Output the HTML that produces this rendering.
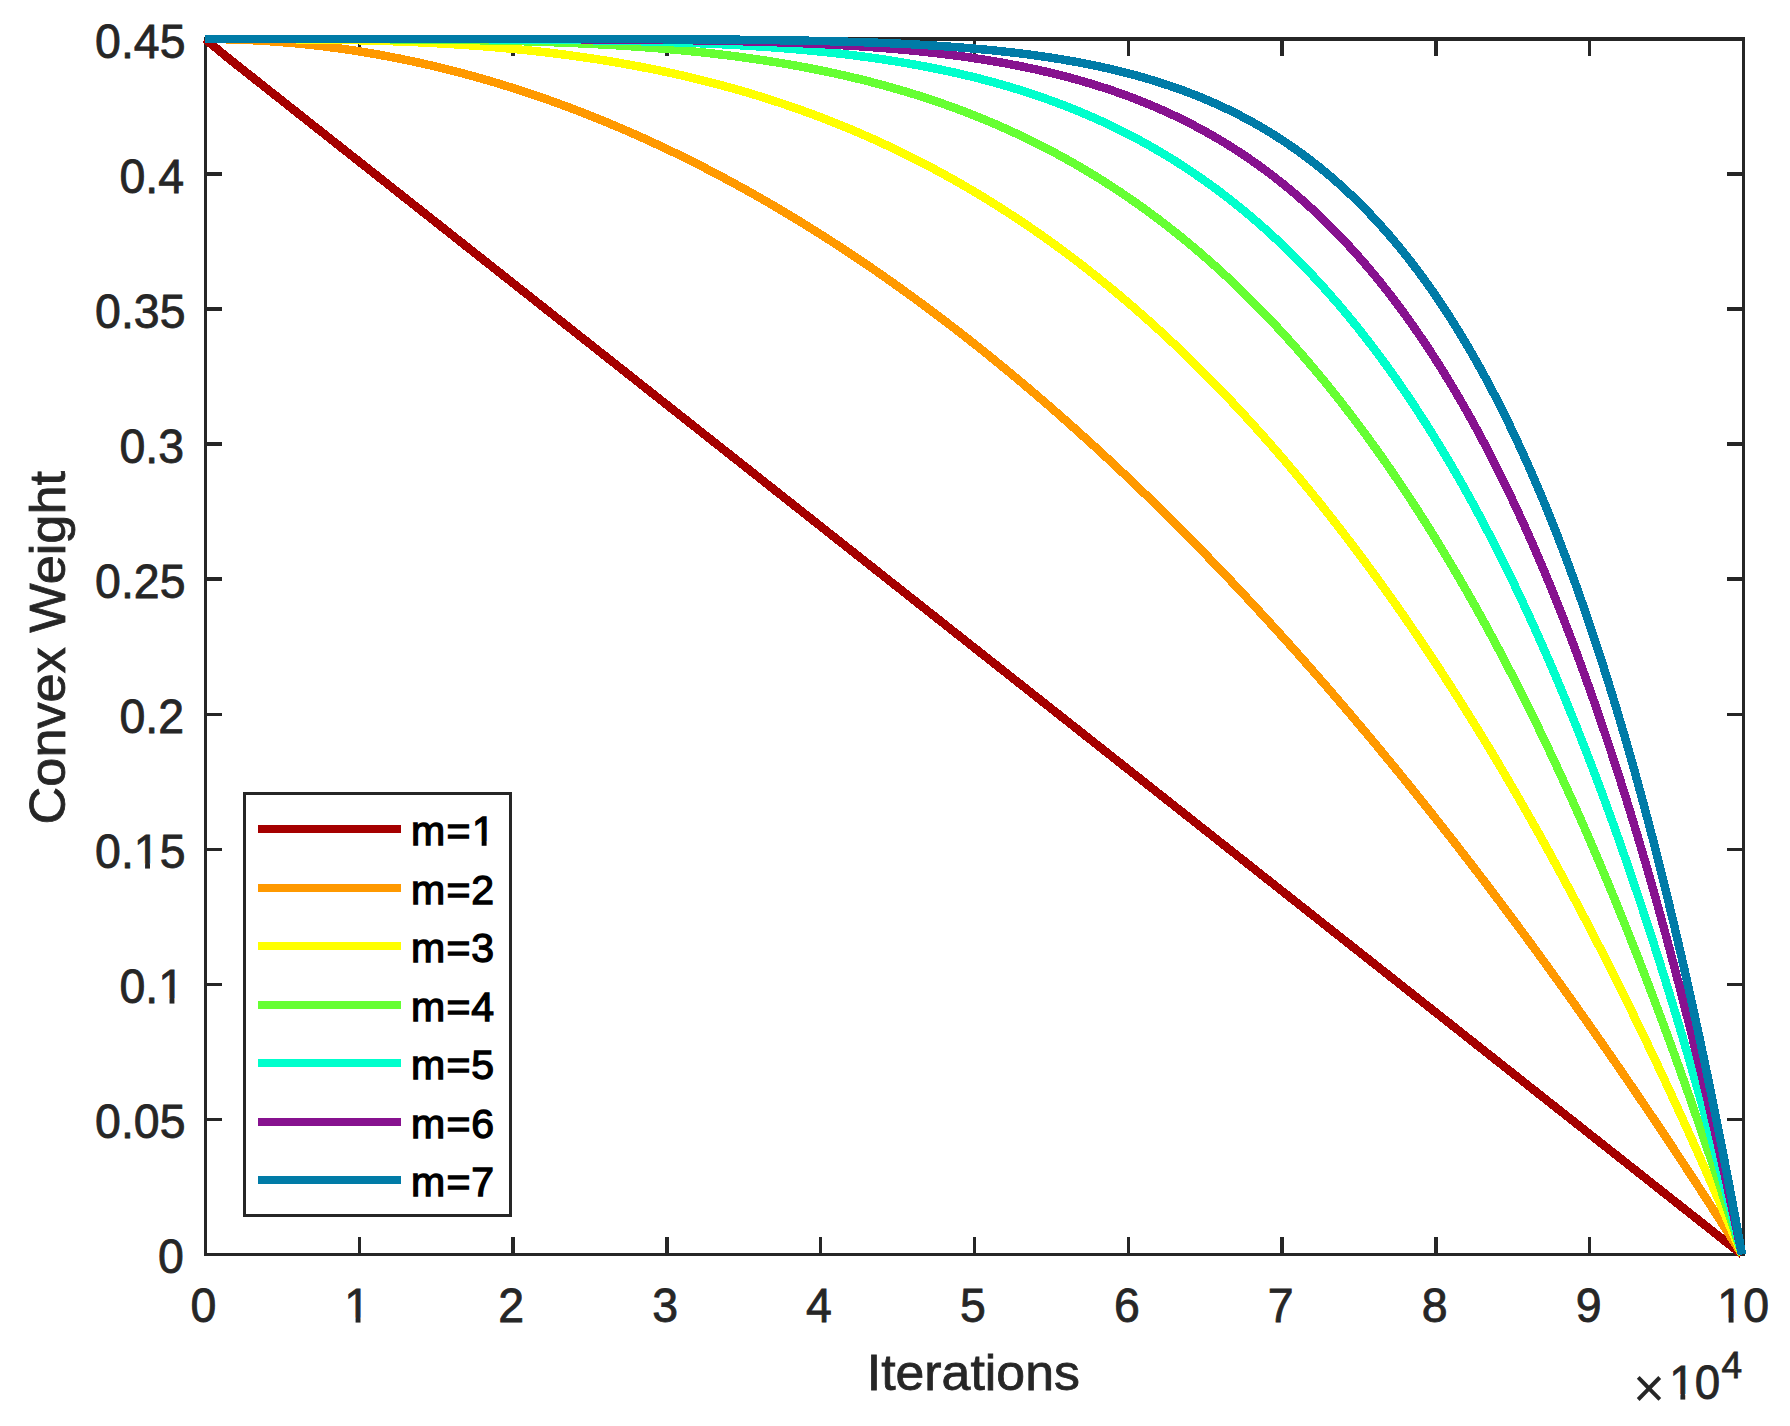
<!DOCTYPE html>
<html lang="en"><head><meta charset="utf-8"><title>Convex Weight vs Iterations</title>
<style>html,body{margin:0;padding:0;background:#fff;}body{width:1790px;height:1426px;overflow:hidden;}svg{display:block;}text{font-family:"Liberation Sans",Arial,Helvetica,sans-serif;}</style></head><body>
<svg width="1790" height="1426" viewBox="0 0 1790 1426">
<rect x="0" y="0" width="1790" height="1426" fill="#ffffff"/>
<g fill="#262626" shape-rendering="crispEdges">
<rect x="204" y="37" width="3" height="1219"/>
<rect x="1742" y="37" width="3" height="1219"/>
<rect x="204" y="37" width="1541" height="4"/>
<rect x="204" y="1253" width="1541" height="3"/>
<rect x="358" y="1237" width="3" height="19"/>
<rect x="358" y="37" width="3" height="19"/>
<rect x="511" y="1237" width="4" height="19"/>
<rect x="511" y="37" width="4" height="19"/>
<rect x="665" y="1237" width="4" height="19"/>
<rect x="665" y="37" width="4" height="19"/>
<rect x="819" y="1237" width="3" height="19"/>
<rect x="819" y="37" width="3" height="19"/>
<rect x="973" y="1237" width="3" height="19"/>
<rect x="973" y="37" width="3" height="19"/>
<rect x="1127" y="1237" width="3" height="19"/>
<rect x="1127" y="37" width="3" height="19"/>
<rect x="1280" y="1237" width="4" height="19"/>
<rect x="1280" y="37" width="4" height="19"/>
<rect x="1434" y="1237" width="4" height="19"/>
<rect x="1434" y="37" width="4" height="19"/>
<rect x="1588" y="1237" width="3" height="19"/>
<rect x="1588" y="37" width="3" height="19"/>
<rect x="204" y="1118" width="18" height="3"/>
<rect x="1727" y="1118" width="18" height="3"/>
<rect x="204" y="983" width="18" height="3"/>
<rect x="1727" y="983" width="18" height="3"/>
<rect x="204" y="848" width="18" height="3"/>
<rect x="1727" y="848" width="18" height="3"/>
<rect x="204" y="713" width="18" height="3"/>
<rect x="1727" y="713" width="18" height="3"/>
<rect x="204" y="577" width="18" height="4"/>
<rect x="1727" y="577" width="18" height="4"/>
<rect x="204" y="442" width="18" height="4"/>
<rect x="1727" y="442" width="18" height="4"/>
<rect x="204" y="307" width="18" height="4"/>
<rect x="1727" y="307" width="18" height="4"/>
<rect x="204" y="172" width="18" height="4"/>
<rect x="1727" y="172" width="18" height="4"/>
</g>
<g fill="none" stroke-width="8.5" stroke-linejoin="round" stroke-linecap="butt" shape-rendering="crispEdges">
<polyline stroke="#A50000" points="205.10,39.00 208.78,42.04 212.45,45.08 216.13,48.12 219.80,51.15 223.48,54.19 227.15,57.23 230.91,60.27 234.76,63.31 238.61,66.35 242.45,69.39 246.30,72.43 250.14,75.47 253.99,78.50 257.83,81.54 261.68,84.58 265.52,87.62 269.37,90.66 273.21,93.70 277.06,96.74 280.90,99.77 284.75,102.81 288.59,105.85 292.44,108.89 296.28,111.93 300.12,114.97 303.97,118.01 307.81,121.05 311.66,124.09 315.50,127.12 319.35,130.16 323.19,133.20 327.04,136.24 330.88,139.28 334.73,142.32 338.57,145.36 342.42,148.39 346.26,151.43 350.11,154.47 353.96,157.51 357.80,160.55 361.65,163.59 365.49,166.63 369.33,169.67 373.18,172.70 377.02,175.74 380.87,178.78 384.72,181.82 388.56,184.86 392.41,187.90 396.25,190.94 400.10,193.98 403.94,197.01 407.79,200.05 411.63,203.09 415.48,206.13 419.32,209.17 423.17,212.21 427.01,215.25 430.86,218.29 434.70,221.33 438.55,224.36 442.39,227.40 446.24,230.44 450.08,233.48 453.93,236.52 457.77,239.56 461.62,242.60 465.46,245.64 469.31,248.67 473.15,251.71 477.00,254.75 480.84,257.79 484.69,260.83 488.53,263.87 492.38,266.91 496.22,269.94 500.06,272.98 503.91,276.02 507.75,279.06 511.60,282.10 515.44,285.14 519.29,288.18 523.13,291.22 526.98,294.25 530.83,297.29 534.67,300.33 538.52,303.37 542.36,306.41 546.21,309.45 550.05,312.49 553.89,315.53 557.74,318.56 561.59,321.60 565.43,324.64 569.27,327.68 573.12,330.72 576.97,333.76 580.81,336.80 584.65,339.84 588.50,342.87 592.35,345.91 596.19,348.95 600.04,351.99 603.88,355.03 607.73,358.07 611.57,361.11 615.42,364.15 619.26,367.18 623.11,370.22 626.95,373.26 630.80,376.30 634.64,379.34 638.49,382.38 642.33,385.42 646.17,388.46 650.02,391.50 653.87,394.53 657.71,397.57 661.56,400.61 665.40,403.65 669.25,406.69 673.09,409.73 676.94,412.77 680.78,415.80 684.62,418.84 688.47,421.88 692.32,424.92 696.16,427.96 700.00,431.00 703.85,434.04 707.70,437.08 711.54,440.12 715.38,443.15 719.23,446.19 723.08,449.23 726.92,452.27 730.77,455.31 734.61,458.35 738.46,461.39 742.30,464.42 746.15,467.46 749.99,470.50 753.84,473.54 757.68,476.58 761.52,479.62 765.37,482.66 769.22,485.70 773.06,488.73 776.90,491.77 780.75,494.81 784.60,497.85 788.44,500.89 792.29,503.93 796.13,506.97 799.98,510.01 803.82,513.04 807.67,516.08 811.51,519.12 815.36,522.16 819.20,525.20 823.05,528.24 826.89,531.28 830.74,534.32 834.58,537.35 838.42,540.39 842.27,543.43 846.12,546.47 849.96,549.51 853.81,552.55 857.65,555.59 861.50,558.63 865.34,561.66 869.19,564.70 873.03,567.74 876.88,570.78 880.72,573.82 884.56,576.86 888.41,579.90 892.26,582.94 896.10,585.98 899.95,589.01 903.79,592.05 907.63,595.09 911.48,598.13 915.33,601.17 919.17,604.21 923.01,607.25 926.86,610.28 930.71,613.32 934.55,616.36 938.40,619.40 942.24,622.44 946.09,625.48 949.93,628.52 953.77,631.56 957.62,634.60 961.47,637.63 965.31,640.67 969.16,643.71 973.00,646.75 976.85,649.79 980.69,652.83 984.54,655.87 988.38,658.91 992.23,661.94 996.07,664.98 999.92,668.02 1003.76,671.06 1007.61,674.10 1011.45,677.14 1015.30,680.18 1019.14,683.22 1022.99,686.25 1026.83,689.29 1030.67,692.33 1034.52,695.37 1038.37,698.41 1042.21,701.45 1046.06,704.49 1049.90,707.53 1053.75,710.56 1057.59,713.60 1061.43,716.64 1065.28,719.68 1069.12,722.72 1072.97,725.76 1076.82,728.80 1080.66,731.84 1084.51,734.87 1088.35,737.91 1092.20,740.95 1096.04,743.99 1099.88,747.03 1103.73,750.07 1107.58,753.11 1111.42,756.15 1115.27,759.18 1119.11,762.22 1122.96,765.26 1126.80,768.30 1130.64,771.34 1134.49,774.38 1138.34,777.42 1142.18,780.46 1146.03,783.49 1149.87,786.53 1153.72,789.57 1157.56,792.61 1161.41,795.65 1165.25,798.69 1169.10,801.73 1172.94,804.77 1176.79,807.80 1180.63,810.84 1184.47,813.88 1188.32,816.92 1192.17,819.96 1196.01,823.00 1199.86,826.04 1203.70,829.08 1207.55,832.11 1211.39,835.15 1215.24,838.19 1219.08,841.23 1222.92,844.27 1226.77,847.31 1230.62,850.35 1234.46,853.38 1238.31,856.42 1242.15,859.46 1246.00,862.50 1249.84,865.54 1253.68,868.58 1257.53,871.62 1261.38,874.66 1265.22,877.70 1269.07,880.73 1272.91,883.77 1276.76,886.81 1280.60,889.85 1284.45,892.89 1288.29,895.93 1292.13,898.97 1295.98,902.01 1299.83,905.04 1303.67,908.08 1307.52,911.12 1311.36,914.16 1315.21,917.20 1319.05,920.24 1322.89,923.28 1326.74,926.32 1330.59,929.35 1334.43,932.39 1338.28,935.43 1342.12,938.47 1345.97,941.51 1349.81,944.55 1353.66,947.59 1357.50,950.62 1361.35,953.66 1365.19,956.70 1369.04,959.74 1372.88,962.78 1376.72,965.82 1380.57,968.86 1384.42,971.90 1388.26,974.93 1392.11,977.97 1395.95,981.01 1399.80,984.05 1403.64,987.09 1407.49,990.13 1411.33,993.17 1415.17,996.21 1419.02,999.25 1422.87,1002.28 1426.71,1005.32 1430.56,1008.36 1434.40,1011.40 1438.25,1014.44 1442.09,1017.48 1445.94,1020.52 1449.78,1023.55 1453.62,1026.59 1457.47,1029.63 1461.32,1032.67 1465.16,1035.71 1469.00,1038.75 1472.85,1041.79 1476.70,1044.83 1480.54,1047.87 1484.39,1050.90 1488.23,1053.94 1492.08,1056.98 1495.92,1060.02 1499.77,1063.06 1503.61,1066.10 1507.45,1069.14 1511.30,1072.17 1515.14,1075.21 1518.99,1078.25 1522.84,1081.29 1526.68,1084.33 1530.53,1087.37 1534.37,1090.41 1538.22,1093.45 1542.06,1096.49 1545.90,1099.52 1549.75,1102.56 1553.60,1105.60 1557.44,1108.64 1561.29,1111.68 1565.13,1114.72 1568.97,1117.76 1572.82,1120.80 1576.67,1123.83 1580.51,1126.87 1584.36,1129.91 1588.20,1132.95 1592.05,1135.99 1595.89,1139.03 1599.74,1142.07 1603.58,1145.11 1607.42,1148.14 1611.27,1151.18 1615.12,1154.22 1618.96,1157.26 1622.80,1160.30 1626.65,1163.34 1630.50,1166.38 1634.34,1169.41 1638.19,1172.45 1642.03,1175.49 1645.88,1178.53 1649.72,1181.57 1653.57,1184.61 1657.41,1187.65 1661.25,1190.69 1665.10,1193.72 1668.95,1196.76 1672.79,1199.80 1676.64,1202.84 1680.48,1205.88 1684.33,1208.92 1688.17,1211.96 1692.02,1215.00 1695.86,1218.04 1699.71,1221.07 1703.55,1224.11 1707.39,1227.15 1711.24,1230.19 1715.09,1233.23 1718.93,1236.27 1722.78,1239.31 1726.62,1242.35 1730.47,1245.38 1734.31,1248.42 1738.16,1251.46 1742.00,1254.50"/>
<polyline stroke="#FF9900" points="205.10,39.00 208.78,39.01 212.45,39.03 216.13,39.07 219.80,39.12 223.48,39.19 227.15,39.27 230.91,39.37 234.76,39.49 238.61,39.62 242.45,39.76 246.30,39.92 250.14,40.09 253.99,40.28 257.83,40.49 261.68,40.71 265.52,40.94 269.37,41.20 273.21,41.46 277.06,41.74 280.90,42.04 284.75,42.35 288.59,42.68 292.44,43.02 296.28,43.38 300.12,43.75 303.97,44.14 307.81,44.54 311.66,44.96 315.50,45.39 319.35,45.84 323.19,46.30 327.04,46.78 330.88,47.27 334.73,47.78 338.57,48.31 342.42,48.85 346.26,49.40 350.11,49.97 353.96,50.55 357.80,51.15 361.65,51.77 365.49,52.40 369.33,53.05 373.18,53.71 377.02,54.38 380.87,55.07 384.72,55.78 388.56,56.50 392.41,57.24 396.25,57.99 400.10,58.76 403.94,59.54 407.79,60.34 411.63,61.15 415.48,61.98 419.32,62.82 423.17,63.68 427.01,64.56 430.86,65.44 434.70,66.35 438.55,67.27 442.39,68.20 446.24,69.15 450.08,70.12 453.93,71.10 457.77,72.09 461.62,73.10 465.46,74.13 469.31,75.17 473.15,76.22 477.00,77.30 480.84,78.38 484.69,79.48 488.53,80.60 492.38,81.73 496.22,82.88 500.06,84.04 503.91,85.22 507.75,86.41 511.60,87.62 515.44,88.84 519.29,90.08 523.13,91.33 526.98,92.60 530.83,93.89 534.67,95.19 538.52,96.50 542.36,97.83 546.21,99.17 550.05,100.53 553.89,101.91 557.74,103.30 561.59,104.71 565.43,106.13 569.27,107.56 573.12,109.01 576.97,110.48 580.81,111.96 584.65,113.46 588.50,114.97 592.35,116.50 596.19,118.04 600.04,119.60 603.88,121.17 607.73,122.76 611.57,124.36 615.42,125.98 619.26,127.61 623.11,129.26 626.95,130.92 630.80,132.60 634.64,134.30 638.49,136.00 642.33,137.73 646.17,139.47 650.02,141.22 653.87,142.99 657.71,144.78 661.56,146.58 665.40,148.39 669.25,150.23 673.09,152.07 676.94,153.93 680.78,155.81 684.62,157.70 688.47,159.61 692.32,161.53 696.16,163.47 700.00,165.42 703.85,167.39 707.70,169.37 711.54,171.37 715.38,173.38 719.23,175.41 723.08,177.45 726.92,179.51 730.77,181.59 734.61,183.67 738.46,185.78 742.30,187.90 746.15,190.03 749.99,192.18 753.84,194.35 757.68,196.53 761.52,198.72 765.37,200.93 769.22,203.16 773.06,205.40 776.90,207.66 780.75,209.93 784.60,212.22 788.44,214.52 792.29,216.84 796.13,219.17 799.98,221.51 803.82,223.88 807.67,226.26 811.51,228.65 815.36,231.06 819.20,233.48 823.05,235.92 826.89,238.37 830.74,240.84 834.58,243.33 838.42,245.82 842.27,248.34 846.12,250.87 849.96,253.41 853.81,255.97 857.65,258.55 861.50,261.14 865.34,263.75 869.19,266.37 873.03,269.00 876.88,271.65 880.72,274.32 884.56,277.00 888.41,279.70 892.26,282.41 896.10,285.14 899.95,287.88 903.79,290.64 907.63,293.41 911.48,296.20 915.33,299.00 919.17,301.82 923.01,304.66 926.86,307.50 930.71,310.37 934.55,313.25 938.40,316.14 942.24,319.05 946.09,321.98 949.93,324.92 953.77,327.87 957.62,330.84 961.47,333.83 965.31,336.83 969.16,339.84 973.00,342.87 976.85,345.92 980.69,348.98 984.54,352.06 988.38,355.15 992.23,358.26 996.07,361.38 999.92,364.52 1003.76,367.67 1007.61,370.84 1011.45,374.02 1015.30,377.22 1019.14,380.43 1022.99,383.66 1026.83,386.91 1030.67,390.17 1034.52,393.44 1038.37,396.73 1042.21,400.03 1046.06,403.35 1049.90,406.69 1053.75,410.04 1057.59,413.40 1061.43,416.78 1065.28,420.18 1069.12,423.59 1072.97,427.02 1076.82,430.46 1080.66,433.92 1084.51,437.39 1088.35,440.87 1092.20,444.38 1096.04,447.89 1099.88,451.43 1103.73,454.97 1107.58,458.54 1111.42,462.12 1115.27,465.71 1119.11,469.32 1122.96,472.94 1126.80,476.58 1130.64,480.23 1134.49,483.90 1138.34,487.59 1142.18,491.29 1146.03,495.00 1149.87,498.73 1153.72,502.48 1157.56,506.24 1161.41,510.01 1165.25,513.80 1169.10,517.61 1172.94,521.43 1176.79,525.27 1180.63,529.12 1184.47,532.99 1188.32,536.87 1192.17,540.77 1196.01,544.68 1199.86,548.61 1203.70,552.55 1207.55,556.51 1211.39,560.48 1215.24,564.47 1219.08,568.47 1222.92,572.49 1226.77,576.52 1230.62,580.57 1234.46,584.64 1238.31,588.72 1242.15,592.81 1246.00,596.92 1249.84,601.05 1253.68,605.19 1257.53,609.34 1261.38,613.51 1265.22,617.70 1269.07,621.90 1272.91,626.12 1276.76,630.35 1280.60,634.60 1284.45,638.86 1288.29,643.13 1292.13,647.43 1295.98,651.73 1299.83,656.06 1303.67,660.39 1307.52,664.75 1311.36,669.12 1315.21,673.50 1319.05,677.90 1322.89,682.31 1326.74,686.74 1330.59,691.18 1334.43,695.64 1338.28,700.12 1342.12,704.61 1345.97,709.11 1349.81,713.63 1353.66,718.17 1357.50,722.72 1361.35,727.28 1365.19,731.87 1369.04,736.46 1372.88,741.07 1376.72,745.70 1380.57,750.34 1384.42,755.00 1388.26,759.67 1392.11,764.36 1395.95,769.06 1399.80,773.78 1403.64,778.51 1407.49,783.26 1411.33,788.02 1415.17,792.80 1419.02,797.59 1422.87,802.40 1426.71,807.23 1430.56,812.07 1434.40,816.92 1438.25,821.79 1442.09,826.67 1445.94,831.57 1449.78,836.49 1453.62,841.42 1457.47,846.37 1461.32,851.33 1465.16,856.30 1469.00,861.29 1472.85,866.30 1476.70,871.32 1480.54,876.36 1484.39,881.41 1488.23,886.48 1492.08,891.56 1495.92,896.66 1499.77,901.77 1503.61,906.90 1507.45,912.04 1511.30,917.20 1515.14,922.37 1518.99,927.56 1522.84,932.76 1526.68,937.98 1530.53,943.22 1534.37,948.47 1538.22,953.73 1542.06,959.01 1545.90,964.31 1549.75,969.62 1553.60,974.94 1557.44,980.28 1561.29,985.64 1565.13,991.01 1568.97,996.40 1572.82,1001.80 1576.67,1007.21 1580.51,1012.65 1584.36,1018.09 1588.20,1023.56 1592.05,1029.03 1595.89,1034.52 1599.74,1040.03 1603.58,1045.56 1607.42,1051.09 1611.27,1056.65 1615.12,1062.22 1618.96,1067.80 1622.80,1073.40 1626.65,1079.01 1630.50,1084.64 1634.34,1090.29 1638.19,1095.95 1642.03,1101.62 1645.88,1107.31 1649.72,1113.02 1653.57,1118.74 1657.41,1124.47 1661.25,1130.22 1665.10,1135.99 1668.95,1141.77 1672.79,1147.57 1676.64,1153.38 1680.48,1159.20 1684.33,1165.05 1688.17,1170.90 1692.02,1176.78 1695.86,1182.66 1699.71,1188.57 1703.55,1194.48 1707.39,1200.42 1711.24,1206.37 1715.09,1212.33 1718.93,1218.31 1722.78,1224.30 1726.62,1230.31 1730.47,1236.34 1734.31,1242.38 1738.16,1248.43 1742.00,1254.50"/>
<polyline stroke="#FFFF00" points="205.10,39.00 208.78,39.00 212.45,39.00 216.13,39.00 219.80,39.00 223.48,39.00 227.15,39.00 230.91,39.01 234.76,39.01 238.61,39.01 242.45,39.02 246.30,39.03 250.14,39.03 253.99,39.04 257.83,39.05 261.68,39.06 265.52,39.08 269.37,39.09 273.21,39.11 277.06,39.13 280.90,39.15 284.75,39.18 288.59,39.20 292.44,39.23 296.28,39.26 300.12,39.30 303.97,39.33 307.81,39.37 311.66,39.42 315.50,39.46 319.35,39.51 323.19,39.57 327.04,39.62 330.88,39.68 334.73,39.75 338.57,39.81 342.42,39.89 346.26,39.96 350.11,40.04 353.96,40.13 357.80,40.22 361.65,40.31 365.49,40.41 369.33,40.51 373.18,40.62 377.02,40.73 380.87,40.85 384.72,40.97 388.56,41.10 392.41,41.23 396.25,41.37 400.10,41.52 403.94,41.67 407.79,41.83 411.63,41.99 415.48,42.16 419.32,42.34 423.17,42.52 427.01,42.71 430.86,42.90 434.70,43.10 438.55,43.31 442.39,43.53 446.24,43.75 450.08,43.98 453.93,44.22 457.77,44.46 461.62,44.71 465.46,44.97 469.31,45.24 473.15,45.51 477.00,45.80 480.84,46.09 484.69,46.39 488.53,46.70 492.38,47.01 496.22,47.34 500.06,47.67 503.91,48.01 507.75,48.36 511.60,48.72 515.44,49.09 519.29,49.47 523.13,49.86 526.98,50.26 530.83,50.66 534.67,51.08 538.52,51.51 542.36,51.94 546.21,52.39 550.05,52.85 553.89,53.31 557.74,53.79 561.59,54.28 565.43,54.77 569.27,55.28 573.12,55.80 576.97,56.33 580.81,56.88 584.65,57.43 588.50,57.99 592.35,58.57 596.19,59.15 600.04,59.75 603.88,60.36 607.73,60.99 611.57,61.62 615.42,62.27 619.26,62.92 623.11,63.60 626.95,64.28 630.80,64.97 634.64,65.68 638.49,66.40 642.33,67.14 646.17,67.88 650.02,68.64 653.87,69.42 657.71,70.20 661.56,71.00 665.40,71.82 669.25,72.65 673.09,73.49 676.94,74.34 680.78,75.21 684.62,76.09 688.47,76.99 692.32,77.90 696.16,78.83 700.00,79.77 703.85,80.73 707.70,81.70 711.54,82.68 715.38,83.68 719.23,84.70 723.08,85.73 726.92,86.77 730.77,87.84 734.61,88.91 738.46,90.01 742.30,91.11 746.15,92.24 749.99,93.38 753.84,94.54 757.68,95.71 761.52,96.90 765.37,98.11 769.22,99.33 773.06,100.57 776.90,101.83 780.75,103.10 784.60,104.39 788.44,105.70 792.29,107.02 796.13,108.36 799.98,109.72 803.82,111.10 807.67,112.50 811.51,113.91 815.36,115.34 819.20,116.79 823.05,118.26 826.89,119.75 830.74,121.25 834.58,122.77 838.42,124.32 842.27,125.88 846.12,127.46 849.96,129.05 853.81,130.67 857.65,132.31 861.50,133.96 865.34,135.64 869.19,137.34 873.03,139.05 876.88,140.79 880.72,142.54 884.56,144.32 888.41,146.11 892.26,147.93 896.10,149.76 899.95,151.62 903.79,153.50 907.63,155.39 911.48,157.31 915.33,159.25 919.17,161.21 923.01,163.19 926.86,165.20 930.71,167.22 934.55,169.27 938.40,171.34 942.24,173.42 946.09,175.54 949.93,177.67 953.77,179.82 957.62,182.00 961.47,184.20 965.31,186.42 969.16,188.67 973.00,190.94 976.85,193.23 980.69,195.54 984.54,197.88 988.38,200.24 992.23,202.62 996.07,205.03 999.92,207.46 1003.76,209.91 1007.61,212.39 1011.45,214.89 1015.30,217.41 1019.14,219.96 1022.99,222.53 1026.83,225.13 1030.67,227.75 1034.52,230.40 1038.37,233.07 1042.21,235.76 1046.06,238.48 1049.90,241.23 1053.75,244.00 1057.59,246.79 1061.43,249.62 1065.28,252.46 1069.12,255.33 1072.97,258.23 1076.82,261.15 1080.66,264.10 1084.51,267.08 1088.35,270.08 1092.20,273.11 1096.04,276.16 1099.88,279.24 1103.73,282.35 1107.58,285.48 1111.42,288.64 1115.27,291.83 1119.11,295.04 1122.96,298.28 1126.80,301.55 1130.64,304.84 1134.49,308.17 1138.34,311.52 1142.18,314.90 1146.03,318.30 1149.87,321.74 1153.72,325.20 1157.56,328.69 1161.41,332.21 1165.25,335.75 1169.10,339.33 1172.94,342.93 1176.79,346.56 1180.63,350.23 1184.47,353.92 1188.32,357.64 1192.17,361.38 1196.01,365.16 1199.86,368.97 1203.70,372.81 1207.55,376.67 1211.39,380.57 1215.24,384.50 1219.08,388.45 1222.92,392.44 1226.77,396.45 1230.62,400.50 1234.46,404.58 1238.31,408.68 1242.15,412.82 1246.00,416.99 1249.84,421.19 1253.68,425.42 1257.53,429.68 1261.38,433.98 1265.22,438.30 1269.07,442.66 1272.91,447.05 1276.76,451.47 1280.60,455.92 1284.45,460.40 1288.29,464.91 1292.13,469.46 1295.98,474.04 1299.83,478.65 1303.67,483.30 1307.52,487.97 1311.36,492.68 1315.21,497.43 1319.05,502.20 1322.89,507.01 1326.74,511.85 1330.59,516.72 1334.43,521.63 1338.28,526.57 1342.12,531.55 1345.97,536.56 1349.81,541.60 1353.66,546.68 1357.50,551.79 1361.35,556.93 1365.19,562.11 1369.04,567.33 1372.88,572.58 1376.72,577.86 1380.57,583.18 1384.42,588.53 1388.26,593.92 1392.11,599.34 1395.95,604.80 1399.80,610.29 1403.64,615.82 1407.49,621.38 1411.33,626.98 1415.17,632.62 1419.02,638.29 1422.87,644.00 1426.71,649.74 1430.56,655.52 1434.40,661.34 1438.25,667.19 1442.09,673.08 1445.94,679.00 1449.78,684.97 1453.62,690.97 1457.47,697.00 1461.32,703.08 1465.16,709.19 1469.00,715.34 1472.85,721.52 1476.70,727.75 1480.54,734.01 1484.39,740.31 1488.23,746.64 1492.08,753.02 1495.92,759.43 1499.77,765.88 1503.61,772.37 1507.45,778.90 1511.30,785.47 1515.14,792.07 1518.99,798.72 1522.84,805.40 1526.68,812.13 1530.53,818.89 1534.37,825.69 1538.22,832.53 1542.06,839.41 1545.90,846.33 1549.75,853.29 1553.60,860.29 1557.44,867.33 1561.29,874.41 1565.13,881.53 1568.97,888.69 1572.82,895.89 1576.67,903.13 1580.51,910.41 1584.36,917.74 1588.20,925.10 1592.05,932.50 1595.89,939.95 1599.74,947.44 1603.58,954.97 1607.42,962.54 1611.27,970.15 1615.12,977.80 1618.96,985.50 1622.80,993.23 1626.65,1001.01 1630.50,1008.83 1634.34,1016.70 1638.19,1024.60 1642.03,1032.55 1645.88,1040.54 1649.72,1048.57 1653.57,1056.65 1657.41,1064.77 1661.25,1072.93 1665.10,1081.14 1668.95,1089.39 1672.79,1097.68 1676.64,1106.02 1680.48,1114.40 1684.33,1122.82 1688.17,1131.29 1692.02,1139.80 1695.86,1148.35 1699.71,1156.95 1703.55,1165.60 1707.39,1174.29 1711.24,1183.02 1715.09,1191.80 1718.93,1200.62 1722.78,1209.49 1726.62,1218.40 1730.47,1227.36 1734.31,1236.36 1738.16,1245.41 1742.00,1254.50"/>
<polyline stroke="#66FF33" points="205.10,39.00 208.78,39.00 212.45,39.00 216.13,39.00 219.80,39.00 223.48,39.00 227.15,39.00 230.91,39.00 234.76,39.00 238.61,39.00 242.45,39.00 246.30,39.00 250.14,39.00 253.99,39.00 257.83,39.00 261.68,39.00 265.52,39.00 269.37,39.00 273.21,39.00 277.06,39.01 280.90,39.01 284.75,39.01 288.59,39.01 292.44,39.01 296.28,39.02 300.12,39.02 303.97,39.02 307.81,39.03 311.66,39.03 315.50,39.03 319.35,39.04 323.19,39.04 327.04,39.05 330.88,39.06 334.73,39.06 338.57,39.07 342.42,39.08 346.26,39.09 350.11,39.10 353.96,39.11 357.80,39.12 361.65,39.13 365.49,39.15 369.33,39.16 373.18,39.18 377.02,39.19 380.87,39.21 384.72,39.23 388.56,39.25 392.41,39.27 396.25,39.30 400.10,39.32 403.94,39.35 407.79,39.37 411.63,39.40 415.48,39.43 419.32,39.47 423.17,39.50 427.01,39.54 430.86,39.58 434.70,39.62 438.55,39.66 442.39,39.70 446.24,39.75 450.08,39.80 453.93,39.85 457.77,39.90 461.62,39.96 465.46,40.02 469.31,40.08 473.15,40.14 477.00,40.21 480.84,40.28 484.69,40.35 488.53,40.42 492.38,40.50 496.22,40.58 500.06,40.67 503.91,40.76 507.75,40.85 511.60,40.94 515.44,41.04 519.29,41.15 523.13,41.25 526.98,41.36 530.83,41.48 534.67,41.60 538.52,41.72 542.36,41.85 546.21,41.98 550.05,42.12 553.89,42.26 557.74,42.40 561.59,42.55 565.43,42.71 569.27,42.87 573.12,43.03 576.97,43.20 580.81,43.38 584.65,43.56 588.50,43.75 592.35,43.94 596.19,44.14 600.04,44.34 603.88,44.55 607.73,44.77 611.57,44.99 615.42,45.22 619.26,45.46 623.11,45.70 626.95,45.95 630.80,46.21 634.64,46.47 638.49,46.74 642.33,47.02 646.17,47.30 650.02,47.60 653.87,47.90 657.71,48.21 661.56,48.52 665.40,48.85 669.25,49.18 673.09,49.52 676.94,49.87 680.78,50.23 684.62,50.59 688.47,50.97 692.32,51.35 696.16,51.75 700.00,52.15 703.85,52.56 707.70,52.98 711.54,53.41 715.38,53.86 719.23,54.31 723.08,54.77 726.92,55.24 730.77,55.73 734.61,56.22 738.46,56.72 742.30,57.24 746.15,57.77 749.99,58.30 753.84,58.85 757.68,59.42 761.52,59.99 765.37,60.57 769.22,61.17 773.06,61.78 776.90,62.40 780.75,63.04 784.60,63.68 788.44,64.34 792.29,65.02 796.13,65.71 799.98,66.41 803.82,67.12 807.67,67.85 811.51,68.59 815.36,69.35 819.20,70.12 823.05,70.90 826.89,71.70 830.74,72.52 834.58,73.35 838.42,74.19 842.27,75.05 846.12,75.93 849.96,76.82 853.81,77.73 857.65,78.66 861.50,79.60 865.34,80.56 869.19,81.53 873.03,82.52 876.88,83.53 880.72,84.56 884.56,85.60 888.41,86.66 892.26,87.74 896.10,88.84 899.95,89.96 903.79,91.10 907.63,92.25 911.48,93.42 915.33,94.62 919.17,95.83 923.01,97.06 926.86,98.31 930.71,99.58 934.55,100.88 938.40,102.19 942.24,103.52 946.09,104.88 949.93,106.25 953.77,107.65 957.62,109.07 961.47,110.51 965.31,111.98 969.16,113.46 973.00,114.97 976.85,116.50 980.69,118.05 984.54,119.63 988.38,121.23 992.23,122.86 996.07,124.50 999.92,126.18 1003.76,127.87 1007.61,129.59 1011.45,131.34 1015.30,133.11 1019.14,134.91 1022.99,136.73 1026.83,138.58 1030.67,140.45 1034.52,142.35 1038.37,144.28 1042.21,146.24 1046.06,148.22 1049.90,150.23 1053.75,152.26 1057.59,154.33 1061.43,156.42 1065.28,158.54 1069.12,160.69 1072.97,162.87 1076.82,165.07 1080.66,167.31 1084.51,169.57 1088.35,171.87 1092.20,174.20 1096.04,176.55 1099.88,178.94 1103.73,181.36 1107.58,183.81 1111.42,186.29 1115.27,188.80 1119.11,191.34 1122.96,193.92 1126.80,196.53 1130.64,199.17 1134.49,201.85 1138.34,204.55 1142.18,207.30 1146.03,210.07 1149.87,212.88 1153.72,215.73 1157.56,218.61 1161.41,221.52 1165.25,224.47 1169.10,227.46 1172.94,230.48 1176.79,233.53 1180.63,236.63 1184.47,239.76 1188.32,242.93 1192.17,246.13 1196.01,249.37 1199.86,252.66 1203.70,255.97 1207.55,259.33 1211.39,262.73 1215.24,266.16 1219.08,269.64 1222.92,273.15 1226.77,276.71 1230.62,280.30 1234.46,283.94 1238.31,287.61 1242.15,291.33 1246.00,295.09 1249.84,298.89 1253.68,302.73 1257.53,306.62 1261.38,310.55 1265.22,314.52 1269.07,318.53 1272.91,322.59 1276.76,326.69 1280.60,330.84 1284.45,335.03 1288.29,339.27 1292.13,343.55 1295.98,347.88 1299.83,352.25 1303.67,356.67 1307.52,361.14 1311.36,365.65 1315.21,370.21 1319.05,374.82 1322.89,379.48 1326.74,384.18 1330.59,388.93 1334.43,393.74 1338.28,398.59 1342.12,403.49 1345.97,408.44 1349.81,413.44 1353.66,418.49 1357.50,423.59 1361.35,428.75 1365.19,433.95 1369.04,439.21 1372.88,444.52 1376.72,449.88 1380.57,455.29 1384.42,460.76 1388.26,466.29 1392.11,471.86 1395.95,477.49 1399.80,483.18 1403.64,488.92 1407.49,494.71 1411.33,500.57 1415.17,506.47 1419.02,512.44 1422.87,518.46 1426.71,524.54 1430.56,530.67 1434.40,536.87 1438.25,543.12 1442.09,549.43 1445.94,555.80 1449.78,562.23 1453.62,568.72 1457.47,575.27 1461.32,581.88 1465.16,588.55 1469.00,595.29 1472.85,602.08 1476.70,608.94 1480.54,615.86 1484.39,622.84 1488.23,629.88 1492.08,636.99 1495.92,644.16 1499.77,651.40 1503.61,658.70 1507.45,666.07 1511.30,673.50 1515.14,681.00 1518.99,688.56 1522.84,696.19 1526.68,703.89 1530.53,711.65 1534.37,719.49 1538.22,727.39 1542.06,735.36 1545.90,743.40 1549.75,751.50 1553.60,759.68 1557.44,767.93 1561.29,776.25 1565.13,784.64 1568.97,793.10 1572.82,801.63 1576.67,810.24 1580.51,818.91 1584.36,827.67 1588.20,836.49 1592.05,845.39 1595.89,854.36 1599.74,863.41 1603.58,872.53 1607.42,881.73 1611.27,891.00 1615.12,900.35 1618.96,909.78 1622.80,919.28 1626.65,928.86 1630.50,938.52 1634.34,948.26 1638.19,958.07 1642.03,967.97 1645.88,977.94 1649.72,988.00 1653.57,998.14 1657.41,1008.35 1661.25,1018.65 1665.10,1029.03 1668.95,1039.49 1672.79,1050.04 1676.64,1060.67 1680.48,1071.38 1684.33,1082.18 1688.17,1093.06 1692.02,1104.02 1695.86,1115.07 1699.71,1126.21 1703.55,1137.43 1707.39,1148.74 1711.24,1160.14 1715.09,1171.62 1718.93,1183.19 1722.78,1194.86 1726.62,1206.60 1730.47,1218.44 1734.31,1230.37 1738.16,1242.39 1742.00,1254.50"/>
<polyline stroke="#00FFCC" points="205.10,39.00 208.78,39.00 212.45,39.00 216.13,39.00 219.80,39.00 223.48,39.00 227.15,39.00 230.91,39.00 234.76,39.00 238.61,39.00 242.45,39.00 246.30,39.00 250.14,39.00 253.99,39.00 257.83,39.00 261.68,39.00 265.52,39.00 269.37,39.00 273.21,39.00 277.06,39.00 280.90,39.00 284.75,39.00 288.59,39.00 292.44,39.00 296.28,39.00 300.12,39.00 303.97,39.00 307.81,39.00 311.66,39.00 315.50,39.00 319.35,39.00 323.19,39.00 327.04,39.00 330.88,39.00 334.73,39.01 338.57,39.01 342.42,39.01 346.26,39.01 350.11,39.01 353.96,39.01 357.80,39.01 361.65,39.01 365.49,39.02 369.33,39.02 373.18,39.02 377.02,39.02 380.87,39.02 384.72,39.03 388.56,39.03 392.41,39.03 396.25,39.04 400.10,39.04 403.94,39.05 407.79,39.05 411.63,39.05 415.48,39.06 419.32,39.07 423.17,39.07 427.01,39.08 430.86,39.08 434.70,39.09 438.55,39.10 442.39,39.11 446.24,39.12 450.08,39.13 453.93,39.14 457.77,39.15 461.62,39.16 465.46,39.17 469.31,39.19 473.15,39.20 477.00,39.21 480.84,39.23 484.69,39.25 488.53,39.26 492.38,39.28 496.22,39.30 500.06,39.32 503.91,39.34 507.75,39.37 511.60,39.39 515.44,39.41 519.29,39.44 523.13,39.47 526.98,39.50 530.83,39.53 534.67,39.56 538.52,39.59 542.36,39.63 546.21,39.66 550.05,39.70 553.89,39.74 557.74,39.78 561.59,39.83 565.43,39.87 569.27,39.92 573.12,39.97 576.97,40.02 580.81,40.07 584.65,40.13 588.50,40.19 592.35,40.25 596.19,40.31 600.04,40.38 603.88,40.44 607.73,40.51 611.57,40.59 615.42,40.66 619.26,40.74 623.11,40.83 626.95,40.91 630.80,41.00 634.64,41.09 638.49,41.19 642.33,41.29 646.17,41.39 650.02,41.49 653.87,41.60 657.71,41.72 661.56,41.83 665.40,41.95 669.25,42.08 673.09,42.21 676.94,42.34 680.78,42.48 684.62,42.62 688.47,42.77 692.32,42.92 696.16,43.08 700.00,43.24 703.85,43.41 707.70,43.58 711.54,43.76 715.38,43.94 719.23,44.13 723.08,44.32 726.92,44.52 730.77,44.73 734.61,44.94 738.46,45.16 742.30,45.38 746.15,45.62 749.99,45.85 753.84,46.10 757.68,46.35 761.52,46.61 765.37,46.87 769.22,47.15 773.06,47.43 776.90,47.72 780.75,48.01 784.60,48.32 788.44,48.63 792.29,48.95 796.13,49.28 799.98,49.62 803.82,49.97 807.67,50.32 811.51,50.69 815.36,51.06 819.20,51.45 823.05,51.84 826.89,52.24 830.74,52.66 834.58,53.08 838.42,53.52 842.27,53.96 846.12,54.42 849.96,54.89 853.81,55.36 857.65,55.85 861.50,56.36 865.34,56.87 869.19,57.39 873.03,57.93 876.88,58.48 880.72,59.05 884.56,59.62 888.41,60.21 892.26,60.81 896.10,61.43 899.95,62.06 903.79,62.70 907.63,63.36 911.48,64.03 915.33,64.72 919.17,65.43 923.01,66.14 926.86,66.88 930.71,67.63 934.55,68.39 938.40,69.17 942.24,69.97 946.09,70.79 949.93,71.62 953.77,72.47 957.62,73.33 961.47,74.22 965.31,75.12 969.16,76.04 973.00,76.98 976.85,77.94 980.69,78.92 984.54,79.92 988.38,80.94 992.23,81.98 996.07,83.03 999.92,84.11 1003.76,85.21 1007.61,86.34 1011.45,87.48 1015.30,88.64 1019.14,89.83 1022.99,91.04 1026.83,92.28 1030.67,93.53 1034.52,94.81 1038.37,96.12 1042.21,97.44 1046.06,98.80 1049.90,100.17 1053.75,101.58 1057.59,103.01 1061.43,104.46 1065.28,105.94 1069.12,107.45 1072.97,108.98 1076.82,110.55 1080.66,112.14 1084.51,113.75 1088.35,115.40 1092.20,117.08 1096.04,118.78 1099.88,120.51 1103.73,122.28 1107.58,124.07 1111.42,125.90 1115.27,127.76 1119.11,129.64 1122.96,131.56 1126.80,133.52 1130.64,135.50 1134.49,137.52 1138.34,139.57 1142.18,141.66 1146.03,143.78 1149.87,145.94 1153.72,148.13 1157.56,150.36 1161.41,152.62 1165.25,154.92 1169.10,157.26 1172.94,159.63 1176.79,162.04 1180.63,164.49 1184.47,166.98 1188.32,169.51 1192.17,172.08 1196.01,174.69 1199.86,177.34 1203.70,180.03 1207.55,182.77 1211.39,185.54 1215.24,188.36 1219.08,191.22 1222.92,194.13 1226.77,197.07 1230.62,200.07 1234.46,203.11 1238.31,206.19 1242.15,209.32 1246.00,212.50 1249.84,215.73 1253.68,219.00 1257.53,222.32 1261.38,225.69 1265.22,229.11 1269.07,232.58 1272.91,236.10 1276.76,239.67 1280.60,243.29 1284.45,246.96 1288.29,250.69 1292.13,254.47 1295.98,258.30 1299.83,262.19 1303.67,266.14 1307.52,270.13 1311.36,274.19 1315.21,278.30 1319.05,282.47 1322.89,286.70 1326.74,290.98 1330.59,295.33 1334.43,299.73 1338.28,304.19 1342.12,308.72 1345.97,313.31 1349.81,317.96 1353.66,322.67 1357.50,327.44 1361.35,332.28 1365.19,337.19 1369.04,342.16 1372.88,347.19 1376.72,352.30 1380.57,357.47 1384.42,362.70 1388.26,368.01 1392.11,373.39 1395.95,378.83 1399.80,384.35 1403.64,389.94 1407.49,395.60 1411.33,401.33 1415.17,407.14 1419.02,413.02 1422.87,418.97 1426.71,425.00 1430.56,431.11 1434.40,437.30 1438.25,443.56 1442.09,449.90 1445.94,456.32 1449.78,462.82 1453.62,469.40 1457.47,476.06 1461.32,482.81 1465.16,489.63 1469.00,496.55 1472.85,503.54 1476.70,510.62 1480.54,517.79 1484.39,525.04 1488.23,532.39 1492.08,539.82 1495.92,547.34 1499.77,554.95 1503.61,562.65 1507.45,570.44 1511.30,578.32 1515.14,586.30 1518.99,594.37 1522.84,602.54 1526.68,610.80 1530.53,619.16 1534.37,627.62 1538.22,636.18 1542.06,644.83 1545.90,653.59 1549.75,662.44 1553.60,671.40 1557.44,680.46 1561.29,689.62 1565.13,698.89 1568.97,708.26 1572.82,717.74 1576.67,727.33 1580.51,737.02 1584.36,746.83 1588.20,756.74 1592.05,766.76 1595.89,776.90 1599.74,787.15 1603.58,797.51 1607.42,807.99 1611.27,818.58 1615.12,829.29 1618.96,840.11 1622.80,851.06 1626.65,862.12 1630.50,873.30 1634.34,884.61 1638.19,896.04 1642.03,907.59 1645.88,919.26 1649.72,931.06 1653.57,942.99 1657.41,955.04 1661.25,967.22 1665.10,979.53 1668.95,991.97 1672.79,1004.54 1676.64,1017.25 1680.48,1030.09 1684.33,1043.06 1688.17,1056.17 1692.02,1069.41 1695.86,1082.79 1699.71,1096.31 1703.55,1109.97 1707.39,1123.77 1711.24,1137.72 1715.09,1151.80 1718.93,1166.03 1722.78,1180.41 1726.62,1194.93 1730.47,1209.60 1734.31,1224.41 1738.16,1239.38 1742.00,1254.50"/>
<polyline stroke="#87128F" points="205.10,39.00 208.78,39.00 212.45,39.00 216.13,39.00 219.80,39.00 223.48,39.00 227.15,39.00 230.91,39.00 234.76,39.00 238.61,39.00 242.45,39.00 246.30,39.00 250.14,39.00 253.99,39.00 257.83,39.00 261.68,39.00 265.52,39.00 269.37,39.00 273.21,39.00 277.06,39.00 280.90,39.00 284.75,39.00 288.59,39.00 292.44,39.00 296.28,39.00 300.12,39.00 303.97,39.00 307.81,39.00 311.66,39.00 315.50,39.00 319.35,39.00 323.19,39.00 327.04,39.00 330.88,39.00 334.73,39.00 338.57,39.00 342.42,39.00 346.26,39.00 350.11,39.00 353.96,39.00 357.80,39.00 361.65,39.00 365.49,39.00 369.33,39.00 373.18,39.00 377.02,39.00 380.87,39.00 384.72,39.00 388.56,39.00 392.41,39.00 396.25,39.00 400.10,39.01 403.94,39.01 407.79,39.01 411.63,39.01 415.48,39.01 419.32,39.01 423.17,39.01 427.01,39.01 430.86,39.01 434.70,39.01 438.55,39.02 442.39,39.02 446.24,39.02 450.08,39.02 453.93,39.02 457.77,39.02 461.62,39.03 465.46,39.03 469.31,39.03 473.15,39.03 477.00,39.04 480.84,39.04 484.69,39.04 488.53,39.05 492.38,39.05 496.22,39.06 500.06,39.06 503.91,39.07 507.75,39.07 511.60,39.08 515.44,39.08 519.29,39.09 523.13,39.10 526.98,39.10 530.83,39.11 534.67,39.12 538.52,39.13 542.36,39.14 546.21,39.15 550.05,39.16 553.89,39.17 557.74,39.18 561.59,39.19 565.43,39.20 569.27,39.22 573.12,39.23 576.97,39.25 580.81,39.26 584.65,39.28 588.50,39.30 592.35,39.32 596.19,39.33 600.04,39.35 603.88,39.38 607.73,39.40 611.57,39.42 615.42,39.45 619.26,39.47 623.11,39.50 626.95,39.53 630.80,39.56 634.64,39.59 638.49,39.62 642.33,39.65 646.17,39.69 650.02,39.72 653.87,39.76 657.71,39.80 661.56,39.84 665.40,39.89 669.25,39.93 673.09,39.98 676.94,40.03 680.78,40.08 684.62,40.13 688.47,40.19 692.32,40.25 696.16,40.31 700.00,40.37 703.85,40.43 707.70,40.50 711.54,40.57 715.38,40.64 719.23,40.72 723.08,40.80 726.92,40.88 730.77,40.96 734.61,41.05 738.46,41.14 742.30,41.23 746.15,41.33 749.99,41.43 753.84,41.54 757.68,41.65 761.52,41.76 765.37,41.87 769.22,41.99 773.06,42.12 776.90,42.25 780.75,42.38 784.60,42.52 788.44,42.66 792.29,42.81 796.13,42.96 799.98,43.12 803.82,43.28 807.67,43.44 811.51,43.62 815.36,43.79 819.20,43.98 823.05,44.17 826.89,44.36 830.74,44.57 834.58,44.77 838.42,44.99 842.27,45.21 846.12,45.44 849.96,45.67 853.81,45.91 857.65,46.16 861.50,46.42 865.34,46.68 869.19,46.96 873.03,47.24 876.88,47.52 880.72,47.82 884.56,48.13 888.41,48.44 892.26,48.76 896.10,49.09 899.95,49.43 903.79,49.79 907.63,50.15 911.48,50.52 915.33,50.90 919.17,51.29 923.01,51.69 926.86,52.10 930.71,52.53 934.55,52.96 938.40,53.41 942.24,53.87 946.09,54.34 949.93,54.82 953.77,55.32 957.62,55.82 961.47,56.35 965.31,56.88 969.16,57.43 973.00,57.99 976.85,58.57 980.69,59.16 984.54,59.77 988.38,60.39 992.23,61.03 996.07,61.68 999.92,62.35 1003.76,63.03 1007.61,63.73 1011.45,64.45 1015.30,65.19 1019.14,65.94 1022.99,66.71 1026.83,67.50 1030.67,68.31 1034.52,69.14 1038.37,69.99 1042.21,70.85 1046.06,71.74 1049.90,72.65 1053.75,73.57 1057.59,74.52 1061.43,75.49 1065.28,76.49 1069.12,77.50 1072.97,78.54 1076.82,79.60 1080.66,80.69 1084.51,81.80 1088.35,82.93 1092.20,84.09 1096.04,85.27 1099.88,86.48 1103.73,87.72 1107.58,88.98 1111.42,90.27 1115.27,91.59 1119.11,92.93 1122.96,94.31 1126.80,95.71 1130.64,97.14 1134.49,98.61 1138.34,100.10 1142.18,101.62 1146.03,103.18 1149.87,104.77 1153.72,106.39 1157.56,108.04 1161.41,109.73 1165.25,111.45 1169.10,113.21 1172.94,115.00 1176.79,116.82 1180.63,118.69 1184.47,120.59 1188.32,122.53 1192.17,124.51 1196.01,126.52 1199.86,128.58 1203.70,130.67 1207.55,132.81 1211.39,134.98 1215.24,137.20 1219.08,139.47 1222.92,141.77 1226.77,144.12 1230.62,146.51 1234.46,148.95 1238.31,151.44 1242.15,153.97 1246.00,156.55 1249.84,159.17 1253.68,161.85 1257.53,164.57 1261.38,167.35 1265.22,170.17 1269.07,173.05 1272.91,175.98 1276.76,178.97 1280.60,182.00 1284.45,185.09 1288.29,188.24 1292.13,191.45 1295.98,194.71 1299.83,198.02 1303.67,201.40 1307.52,204.84 1311.36,208.34 1315.21,211.89 1319.05,215.52 1322.89,219.20 1326.74,222.95 1330.59,226.76 1334.43,230.64 1338.28,234.58 1342.12,238.59 1345.97,242.67 1349.81,246.82 1353.66,251.04 1357.50,255.33 1361.35,259.70 1365.19,264.13 1369.04,268.64 1372.88,273.23 1376.72,277.89 1380.57,282.63 1384.42,287.44 1388.26,292.34 1392.11,297.31 1395.95,302.37 1399.80,307.51 1403.64,312.73 1407.49,318.04 1411.33,323.43 1415.17,328.91 1419.02,334.47 1422.87,340.13 1426.71,345.87 1430.56,351.71 1434.40,357.64 1438.25,363.66 1442.09,369.77 1445.94,375.98 1449.78,382.29 1453.62,388.70 1457.47,395.21 1461.32,401.81 1465.16,408.52 1469.00,415.33 1472.85,422.25 1476.70,429.27 1480.54,436.40 1484.39,443.63 1488.23,450.98 1492.08,458.43 1495.92,466.00 1499.77,473.68 1503.61,481.48 1507.45,489.39 1511.30,497.43 1515.14,505.57 1518.99,513.84 1522.84,522.24 1526.68,530.75 1530.53,539.39 1534.37,548.16 1538.22,557.05 1542.06,566.07 1545.90,575.23 1549.75,584.51 1553.60,593.93 1557.44,603.48 1561.29,613.17 1565.13,623.00 1568.97,632.97 1572.82,643.08 1576.67,653.33 1580.51,663.73 1584.36,674.27 1588.20,684.97 1592.05,695.81 1595.89,706.80 1599.74,717.95 1603.58,729.25 1607.42,740.70 1611.27,752.32 1615.12,764.09 1618.96,776.02 1622.80,788.12 1626.65,800.39 1630.50,812.82 1634.34,825.42 1638.19,838.19 1642.03,851.13 1645.88,864.24 1649.72,877.54 1653.57,891.01 1657.41,904.66 1661.25,918.49 1665.10,932.50 1668.95,946.71 1672.79,961.09 1676.64,975.67 1680.48,990.44 1684.33,1005.41 1688.17,1020.56 1692.02,1035.92 1695.86,1051.48 1699.71,1067.24 1703.55,1083.20 1707.39,1099.37 1711.24,1115.74 1715.09,1132.33 1718.93,1149.13 1722.78,1166.14 1726.62,1183.37 1730.47,1200.82 1734.31,1218.49 1738.16,1236.38 1742.00,1254.50"/>
<polyline stroke="#007BA7" points="205.10,39.00 208.78,39.00 212.45,39.00 216.13,39.00 219.80,39.00 223.48,39.00 227.15,39.00 230.91,39.00 234.76,39.00 238.61,39.00 242.45,39.00 246.30,39.00 250.14,39.00 253.99,39.00 257.83,39.00 261.68,39.00 265.52,39.00 269.37,39.00 273.21,39.00 277.06,39.00 280.90,39.00 284.75,39.00 288.59,39.00 292.44,39.00 296.28,39.00 300.12,39.00 303.97,39.00 307.81,39.00 311.66,39.00 315.50,39.00 319.35,39.00 323.19,39.00 327.04,39.00 330.88,39.00 334.73,39.00 338.57,39.00 342.42,39.00 346.26,39.00 350.11,39.00 353.96,39.00 357.80,39.00 361.65,39.00 365.49,39.00 369.33,39.00 373.18,39.00 377.02,39.00 380.87,39.00 384.72,39.00 388.56,39.00 392.41,39.00 396.25,39.00 400.10,39.00 403.94,39.00 407.79,39.00 411.63,39.00 415.48,39.00 419.32,39.00 423.17,39.00 427.01,39.00 430.86,39.00 434.70,39.00 438.55,39.00 442.39,39.00 446.24,39.00 450.08,39.00 453.93,39.00 457.77,39.00 461.62,39.00 465.46,39.00 469.31,39.01 473.15,39.01 477.00,39.01 480.84,39.01 484.69,39.01 488.53,39.01 492.38,39.01 496.22,39.01 500.06,39.01 503.91,39.01 507.75,39.01 511.60,39.02 515.44,39.02 519.29,39.02 523.13,39.02 526.98,39.02 530.83,39.02 534.67,39.03 538.52,39.03 542.36,39.03 546.21,39.03 550.05,39.04 553.89,39.04 557.74,39.04 561.59,39.04 565.43,39.05 569.27,39.05 573.12,39.06 576.97,39.06 580.81,39.06 584.65,39.07 588.50,39.07 592.35,39.08 596.19,39.09 600.04,39.09 603.88,39.10 607.73,39.10 611.57,39.11 615.42,39.12 619.26,39.13 623.11,39.14 626.95,39.14 630.80,39.15 634.64,39.16 638.49,39.17 642.33,39.19 646.17,39.20 650.02,39.21 653.87,39.22 657.71,39.24 661.56,39.25 665.40,39.27 669.25,39.28 673.09,39.30 676.94,39.32 680.78,39.33 684.62,39.35 688.47,39.37 692.32,39.40 696.16,39.42 700.00,39.44 703.85,39.47 707.70,39.49 711.54,39.52 715.38,39.55 719.23,39.58 723.08,39.61 726.92,39.64 730.77,39.67 734.61,39.71 738.46,39.74 742.30,39.78 746.15,39.82 749.99,39.86 753.84,39.91 757.68,39.95 761.52,40.00 765.37,40.05 769.22,40.10 773.06,40.15 776.90,40.21 780.75,40.27 784.60,40.33 788.44,40.39 792.29,40.46 796.13,40.52 799.98,40.59 803.82,40.67 807.67,40.74 811.51,40.82 815.36,40.91 819.20,40.99 823.05,41.08 826.89,41.17 830.74,41.27 834.58,41.37 838.42,41.47 842.27,41.58 846.12,41.69 849.96,41.80 853.81,41.92 857.65,42.04 861.50,42.17 865.34,42.30 869.19,42.44 873.03,42.58 876.88,42.73 880.72,42.88 884.56,43.04 888.41,43.20 892.26,43.37 896.10,43.54 899.95,43.72 903.79,43.91 907.63,44.10 911.48,44.30 915.33,44.50 919.17,44.71 923.01,44.93 926.86,45.16 930.71,45.39 934.55,45.63 938.40,45.88 942.24,46.14 946.09,46.40 949.93,46.67 953.77,46.95 957.62,47.24 961.47,47.54 965.31,47.85 969.16,48.17 973.00,48.50 976.85,48.83 980.69,49.18 984.54,49.54 988.38,49.91 992.23,50.29 996.07,50.68 999.92,51.08 1003.76,51.50 1007.61,51.92 1011.45,52.36 1015.30,52.81 1019.14,53.28 1022.99,53.76 1026.83,54.25 1030.67,54.75 1034.52,55.27 1038.37,55.81 1042.21,56.36 1046.06,56.92 1049.90,57.51 1053.75,58.10 1057.59,58.72 1061.43,59.35 1065.28,59.99 1069.12,60.66 1072.97,61.34 1076.82,62.04 1080.66,62.76 1084.51,63.50 1088.35,64.26 1092.20,65.04 1096.04,65.84 1099.88,66.66 1103.73,67.50 1107.58,68.36 1111.42,69.25 1115.27,70.16 1119.11,71.09 1122.96,72.05 1126.80,73.03 1130.64,74.03 1134.49,75.06 1138.34,76.12 1142.18,77.20 1146.03,78.31 1149.87,79.45 1153.72,80.61 1157.56,81.81 1161.41,83.03 1165.25,84.28 1169.10,85.56 1172.94,86.88 1176.79,88.22 1180.63,89.60 1184.47,91.01 1188.32,92.46 1192.17,93.94 1196.01,95.45 1199.86,97.00 1203.70,98.59 1207.55,100.21 1211.39,101.87 1215.24,103.57 1219.08,105.31 1222.92,107.09 1226.77,108.90 1230.62,110.77 1234.46,112.67 1238.31,114.61 1242.15,116.60 1246.00,118.64 1249.84,120.72 1253.68,122.84 1257.53,125.02 1261.38,127.24 1265.22,129.51 1269.07,131.83 1272.91,134.20 1276.76,136.63 1280.60,139.10 1284.45,141.63 1288.29,144.22 1292.13,146.85 1295.98,149.55 1299.83,152.30 1303.67,155.12 1307.52,157.99 1311.36,160.92 1315.21,163.92 1319.05,166.97 1322.89,170.09 1326.74,173.28 1330.59,176.53 1334.43,179.85 1338.28,183.24 1342.12,186.70 1345.97,190.23 1349.81,193.83 1353.66,197.50 1357.50,201.25 1361.35,205.07 1365.19,208.97 1369.04,212.95 1372.88,217.01 1376.72,221.15 1380.57,225.37 1384.42,229.68 1388.26,234.07 1392.11,238.55 1395.95,243.11 1399.80,247.77 1403.64,252.51 1407.49,257.35 1411.33,262.28 1415.17,267.30 1419.02,272.42 1422.87,277.64 1426.71,282.96 1430.56,288.38 1434.40,293.91 1438.25,299.54 1442.09,305.27 1445.94,311.12 1449.78,317.07 1453.62,323.13 1457.47,329.31 1461.32,335.60 1465.16,342.01 1469.00,348.53 1472.85,355.18 1476.70,361.95 1480.54,368.84 1484.39,375.86 1488.23,383.00 1492.08,390.28 1495.92,397.68 1499.77,405.22 1503.61,412.90 1507.45,420.71 1511.30,428.66 1515.14,436.76 1518.99,444.99 1522.84,453.38 1526.68,461.91 1530.53,470.59 1534.37,479.42 1538.22,488.41 1542.06,497.55 1545.90,506.86 1549.75,516.32 1553.60,525.95 1557.44,535.75 1561.29,545.71 1565.13,555.84 1568.97,566.15 1572.82,576.63 1576.67,587.29 1580.51,598.13 1584.36,609.16 1588.20,620.37 1592.05,631.77 1595.89,643.36 1599.74,655.14 1603.58,667.12 1607.42,679.30 1611.27,691.68 1615.12,704.27 1618.96,717.06 1622.80,730.07 1626.65,743.28 1630.50,756.72 1634.34,770.37 1638.19,784.24 1642.03,798.34 1645.88,812.67 1649.72,827.22 1653.57,842.02 1657.41,857.05 1661.25,872.32 1665.10,887.83 1668.95,903.59 1672.79,919.60 1676.64,935.86 1680.48,952.38 1684.33,969.17 1688.17,986.21 1692.02,1003.52 1695.86,1021.10 1699.71,1038.96 1703.55,1057.09 1707.39,1075.51 1711.24,1094.21 1715.09,1113.19 1718.93,1132.47 1722.78,1152.05 1726.62,1171.93 1730.47,1192.10 1734.31,1212.59 1738.16,1233.39 1742.00,1254.50"/>
</g>
<g fill="#262626" stroke="#262626" stroke-width="0.8" font-size="47.2px">
<text transform="translate(183.90,1273.20) scale(0.985,1)" text-anchor="end">0</text>
<text transform="translate(185.50,1138.14) scale(0.985,1)" text-anchor="end">0.05</text>
<text transform="translate(184.10,1003.09) scale(0.985,1)" text-anchor="end">0.1</text><g class="m1" transform="translate(184.10,1003.09) scale(0.985,1)" fill="#fff" stroke="none"><rect x="-24.46" y="-4.53" width="9.67" height="6.73"/><rect x="-9.82" y="-4.53" width="9.31" height="6.73"/></g>
<text transform="translate(185.50,868.03) scale(0.985,1)" text-anchor="end">0.15</text><g class="m1" transform="translate(185.50,868.03) scale(0.985,1)" fill="#fff" stroke="none"><rect x="-50.71" y="-4.53" width="9.67" height="6.73"/><rect x="-36.06" y="-4.53" width="9.31" height="6.73"/></g>
<text transform="translate(184.10,732.98) scale(0.985,1)" text-anchor="end">0.2</text>
<text transform="translate(185.50,597.92) scale(0.985,1)" text-anchor="end">0.25</text>
<text transform="translate(184.10,462.87) scale(0.985,1)" text-anchor="end">0.3</text>
<text transform="translate(185.50,327.81) scale(0.985,1)" text-anchor="end">0.35</text>
<text transform="translate(184.10,192.76) scale(0.985,1)" text-anchor="end">0.4</text>
<text transform="translate(185.50,57.70) scale(0.985,1)" text-anchor="end">0.45</text>
<text transform="translate(203.30,1322.30) scale(0.985,1)" text-anchor="middle">0</text>
<text transform="translate(357.22,1322.30) scale(0.985,1)" text-anchor="middle">1</text><g class="m1" transform="translate(357.22,1322.30) scale(0.985,1)" fill="#fff" stroke="none"><rect x="-11.33" y="-4.53" width="9.67" height="6.73"/><rect x="3.32" y="-4.53" width="9.31" height="6.73"/></g>
<text transform="translate(511.14,1322.30) scale(0.985,1)" text-anchor="middle">2</text>
<text transform="translate(665.06,1322.30) scale(0.985,1)" text-anchor="middle">3</text>
<text transform="translate(818.98,1322.30) scale(0.985,1)" text-anchor="middle">4</text>
<text transform="translate(972.90,1322.30) scale(0.985,1)" text-anchor="middle">5</text>
<text transform="translate(1126.82,1322.30) scale(0.985,1)" text-anchor="middle">6</text>
<text transform="translate(1280.74,1322.30) scale(0.985,1)" text-anchor="middle">7</text>
<text transform="translate(1434.66,1322.30) scale(0.985,1)" text-anchor="middle">8</text>
<text transform="translate(1588.58,1322.30) scale(0.985,1)" text-anchor="middle">9</text>
<text transform="translate(1743.20,1322.30) scale(0.985,1)" text-anchor="middle">10</text><g class="m1" transform="translate(1743.20,1322.30) scale(0.985,1)" fill="#fff" stroke="none"><rect x="-24.45" y="-4.53" width="9.67" height="6.73"/><rect x="-9.80" y="-4.53" width="9.31" height="6.73"/></g>
<text transform="translate(1649.00,1406.50)" text-anchor="middle" font-size="54.7px" stroke="none">×</text>
<text transform="translate(1669.30,1398.50) scale(0.97,1)">10</text><g class="m1" transform="translate(1669.30,1398.50) scale(0.97,1)" fill="#fff" stroke="none"><rect x="1.80" y="-4.53" width="9.67" height="6.73"/><rect x="16.44" y="-4.53" width="9.31" height="6.73"/></g>
<text transform="translate(1721.60,1377.80) scale(0.985,1)" font-size="37.6px">4</text>
</g>
<g fill="#262626" stroke="#262626" stroke-width="0.8" font-size="51.0px">
<text transform="translate(973.30,1390.30) scale(1.024,1)" text-anchor="middle" font-size="50.6px">Iterations</text>
<text transform="translate(65.00,647.70) rotate(-90) scale(1.037,1)" text-anchor="middle" font-size="50.4px">Convex Weight</text>
</g>
<g shape-rendering="crispEdges"><rect x="244.5" y="793.5" width="266" height="421.5" fill="#fff" stroke="#262626" stroke-width="3"/>
<rect x="258" y="825.0" width="143" height="8" fill="#A50000"/>
<rect x="258" y="883.5" width="143" height="8" fill="#FF9900"/>
<rect x="258" y="942.0" width="143" height="8" fill="#FFFF00"/>
<rect x="258" y="1000.5" width="143" height="8" fill="#66FF33"/>
<rect x="258" y="1059.0" width="143" height="8" fill="#00FFCC"/>
<rect x="258" y="1117.5" width="143" height="8" fill="#87128F"/>
<rect x="258" y="1176.0" width="143" height="8" fill="#007BA7"/>
</g>
<g fill="#000" stroke="#000" stroke-width="1.3" letter-spacing="1.5" font-size="41.0px">
<text transform="translate(410.90,845.30)">m=1</text><g class="m1" transform="translate(410.90,845.30)" fill="#fff" stroke="none"><rect x="62.17" y="-4.31" width="8.59" height="6.76"/><rect x="75.68" y="-4.31" width="8.27" height="6.76"/></g>
<text transform="translate(410.90,903.80)">m=<tspan dx="-0.8">2</tspan></text>
<text transform="translate(410.90,962.30)">m=<tspan dx="-0.8">3</tspan></text>
<text transform="translate(410.90,1020.80)">m=<tspan dx="-0.8">4</tspan></text>
<text transform="translate(410.90,1079.30)">m=<tspan dx="-0.8">5</tspan></text>
<text transform="translate(410.90,1137.80)">m=<tspan dx="-0.8">6</tspan></text>
<text transform="translate(410.90,1196.30)">m=<tspan dx="-0.8">7</tspan></text>
</g>
</svg></body></html>
